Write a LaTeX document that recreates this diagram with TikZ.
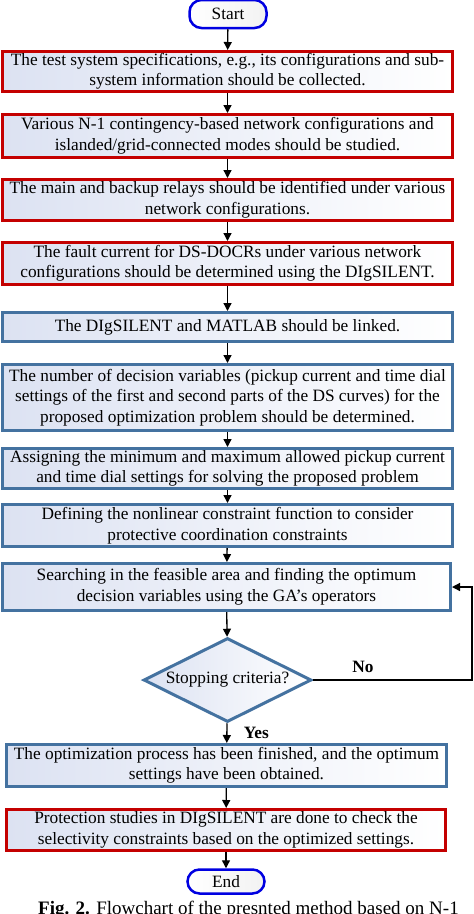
\documentclass[tikz,border=0pt]{standalone}
\usepackage{fontspec}
\setmainfont{Liberation Serif}
\usepackage{xcolor}
\usetikzlibrary{shapes.geometric,arrows.meta}
\definecolor{redframe}{RGB}{196,0,0}
\definecolor{blueframe}{RGB}{68,114,160}
\definecolor{termblue}{RGB}{0,0,225}
\definecolor{boxfill}{RGB}{220,226,242}
\newcommand{\boxfont}{\fontsize{17.3}{20.5}\selectfont}

\tikzset{
  redbox/.style={draw=redframe, line width=3pt, left color=boxfill, right color=white,
    minimum width=450pt, inner sep=0pt, align=center, font=\boxfont},
  bluebox/.style={redbox, draw=blueframe},
  terminal/.style={draw=termblue, line width=2.5pt, rounded corners=12pt,
    left color=white, right color=white!90!gray, minimum width=77pt,
    inner sep=0pt, font=\boxfont},
  decision/.style={diamond, draw=blueframe, line width=3pt, left color=boxfill, right color=white,
    minimum width=168pt, minimum height=84pt, inner sep=0pt, aspect=2, font=\boxfont},
  flow/.style={-{Triangle[width=8pt,length=8pt]}, line width=1.3pt}
}

\begin{document}
\begin{tikzpicture}[x=1pt, y=-1pt]
  \useasboundingbox (0,0) rectangle (474,914);

  % Start
  \node[terminal, minimum height=28pt] (start) at (228,14) {Start};

  % Red boxes: system data
  \node[redbox, minimum height=40pt] (spec) at (227.5,71.5)
    {The test system specifications, e.g., its configurations and sub-\\system information should be collected.};
  \node[redbox, minimum height=43pt] (contin) at (227.5,136)
    {Various N-1 contingency-based network configurations and\\islanded/grid-connected modes should be studied.};
  \node[redbox, minimum height=41pt] (relays) at (227.5,200)
    {The main and backup relays should be identified under various\\network configurations.};
  \node[redbox, minimum height=42pt] (fault) at (227.5,263.5)
    {The fault current for DS-DOCRs under various network\\configurations should be determined using the DIgSILENT.};

  % Blue boxes: optimization
  \node[bluebox, minimum height=29pt] (link) at (227.5,327)
    {The DIgSILENT and MATLAB should be linked.};
  \node[bluebox, minimum height=66pt] (vars) at (227.5,397.5)
    {The number of decision variables (pickup current and time dial\\settings of the first and second parts of the DS curves) for the\\proposed optimization problem should be determined.};
  \node[bluebox, minimum height=40pt] (limits) at (227.5,468.5)
    {Assigning the minimum and maximum allowed pickup current\\and time dial settings for solving the proposed problem};
  \node[bluebox, minimum height=42pt] (constr) at (227.5,525.5)
    {Defining the nonlinear constraint function to consider\\protective coordination constraints};
  \node[bluebox, minimum height=47pt, minimum width=448pt] (search) at (226.5,587)
    {Searching in the feasible area and finding the optimum\\decision variables using the GA's operators};

  % Decision
  \node[decision] (stop) at (227.5,680) {Stopping criteria?};

  \node[bluebox, minimum height=42pt, minimum width=440pt] (done) at (226.5,765.5)
    {The optimization process has been finished, and the optimum\\settings have been obtained.};
  \node[redbox, minimum height=41pt, minimum width=439pt] (check) at (226,830)
    {Protection studies in DIgSILENT are done to check the\\selectivity constraints based on the optimized settings.};

  % End
  \node[terminal, minimum height=24pt] (end) at (226,881.5) {End};

  % Arrows
  \draw[flow] (start) -- (spec);
  \draw[flow] (spec) -- (contin);
  \draw[flow] (contin) -- (relays);
  \draw[flow] (relays) -- (fault);
  \draw[flow] (fault) -- (link);
  \draw[flow] (link) -- (vars);
  \draw[flow] (vars) -- (limits);
  \draw[flow] (limits) -- (constr);
  \draw[flow] (constr) -- (search);
  \draw[flow] (search) -- (stop);
  \draw[flow] (stop) -- node[right, font=\boxfont\bfseries, xshift=13pt] (yes) {Yes} (done);
  \draw[flow] (done) -- (check);
  \draw[flow] (check) -- (end);

  % Loop back
  \coordinate (loop) at (472,680);
  \draw[flow] (stop.east) -- (loop) |- (search.east);
  \node[font=\boxfont\bfseries] (no) at (363,667) {No};

  % Caption (cut off at the bottom edge)
  \node[anchor=base west, inner sep=0pt, font=\fontsize{19}{21}\selectfont] (caption) at (38,914)
    {\textbf{Fig. 2.} Flowchart of the presnted method based on N-1};
\end{tikzpicture}
\end{document}
